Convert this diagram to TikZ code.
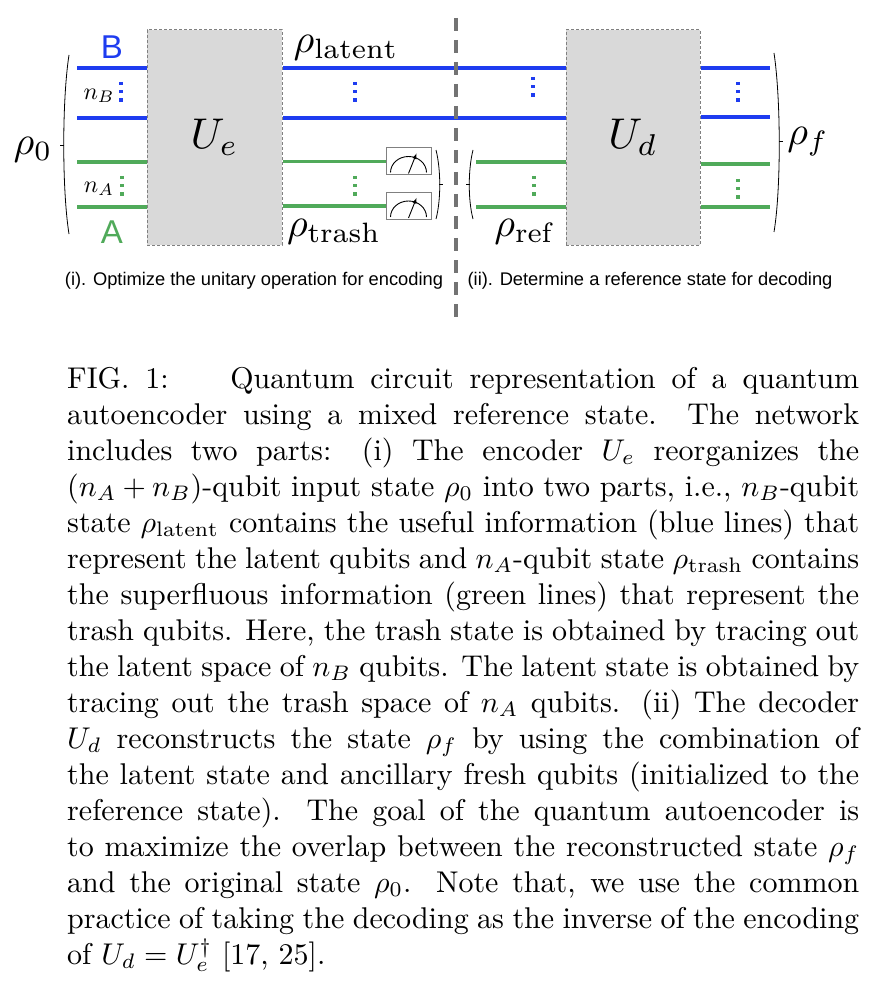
\documentclass[tikz,border=0pt]{standalone}
\usepackage{amsmath}
\usepackage{fontspec}
\newfontfamily\hel{Liberation Sans}
\usetikzlibrary{positioning}
\definecolor{qb}{RGB}{30, 60, 240}
\definecolor{qg}{RGB}{80, 170, 90}
\definecolor{gbox}{RGB}{217, 217, 217}
\tikzset{
  blue wire/.style={draw=qb, line width=3.6pt},
  green wire/.style={draw=qg, line width=3.6pt},
  gate/.style={draw=gray, densely dashed, fill=gbox, line width=1pt},
  meter/.style={draw=gray, fill=white, line width=1pt, minimum width=45pt, minimum height=27pt, inner sep=0pt},
  vdots/.style={line width=3.2pt, dash pattern=on 3.2pt off 5pt},
  lbl/.style={inner sep=0pt},
}
\newcommand{\scl}[2]{\scalebox{#1}{#2}}
\newcommand{\meterdial}[1]{%
  \draw [line width=0.9pt] ([xshift=-18pt,yshift=-11pt]#1.center) arc (180:0:18pt and 16pt);
  \draw [line width=0.9pt, -latex] ([xshift=0pt,yshift=-12pt]#1.center) -- ([xshift=8pt,yshift=8pt]#1.center);}
\begin{document}
\begin{tikzpicture}[x=1pt, y=-1pt]
\useasboundingbox (0,0) rectangle (874,984);
% gates
\node (Ue) [gate, minimum width=135pt, minimum height=215pt] at (214.5,137.5) {\scl{4.3}{$U_e$}};
\node (Ud) [gate, minimum width=134pt, minimum height=215pt] at (633,137.5) {\scl{4.3}{$U_d$}};
% wire ends
\coordinate (b1in) at (77,68);   \coordinate (b2in) at (77,118);
\coordinate (g1in) at (77,162);  \coordinate (g2in) at (77,207);
\node (m1) [meter] at (408.5,161.5) {};
\node (m2) [meter] at (408.5,206) {};
\coordinate (r1) at (476,162);   \coordinate (r2) at (476,207);
\coordinate (b1out) at (770,68); \coordinate (b2out) at (770,117);
\coordinate (g1out) at (770,164);\coordinate (g2out) at (770,207);
% wires
\draw [blue wire] (b1in) -- (Ue.west |- b1in);
\draw [blue wire] (b2in) -- (Ue.west |- b2in);
\draw [green wire] (g1in) -- (Ue.west |- g1in);
\draw [green wire] (g2in) -- (Ue.west |- g2in);
\draw [blue wire] (Ue.east |- b1in) -- (Ud.west |- b1in);
\draw [blue wire] (Ue.east |- b2in) -- (Ud.west |- b2in);
\draw [green wire] (Ue.east |- m1) -- (m1.west);
\draw [green wire] (Ue.east |- m2) -- (m2.west);
\draw [green wire] (r1) -- (Ud.west |- r1);
\draw [green wire] (r2) -- (Ud.west |- r2);
\draw [blue wire] (Ud.east |- b1out) -- (b1out);
\draw [blue wire] (Ud.east |- b2out) -- (b2out);
\draw [green wire] (Ud.east |- g1out) -- (g1out);
\draw [green wire] (Ud.east |- g2out) -- (g2out);
\meterdial{m1}
\meterdial{m2}
% vertical dots
\draw [vdots, qb] (121,82) -- (121,106);
\draw [vdots, qg] (122,176) -- (122,200);
\draw [vdots, qb] (355,82) -- (355,106);
\draw [vdots, qg] (355,176) -- (355,200);
\draw [vdots, qb] (533,77) -- (533,101);
\draw [vdots, qg] (534,176) -- (534,200);
\draw [vdots, qb] (738,82) -- (738,106);
\draw [vdots, qg] (738,179) -- (738,203);
% brackets
\draw [line width=0.8pt] (69,55) .. controls (62,100) and (62,190) .. (69,234);
\draw [line width=0.8pt] (64,145) -- (60,145);
\draw [line width=0.8pt] (436,150) .. controls (441,170) and (441,200) .. (436,219);
\draw [line width=0.8pt] (439,184) -- (443,184);
\draw [line width=0.8pt] (473,150) .. controls (468,170) and (468,200) .. (473,219);
\draw [line width=0.8pt] (470,184) -- (466,184);
\draw [line width=0.8pt] (774,53) .. controls (781,100) and (781,190) .. (774,232);
\draw [line width=0.8pt] (779,141) -- (783,141);
% divider
\draw [black!55, line width=3.2pt, dash pattern=on 13pt off 9pt] (456,18) -- (456,322);
% labels
\node (B) [lbl, text=qb, font=\hel\fontsize{33}{33}\selectfont] at (112,47) {B};
\node (A) [lbl, text=qg, font=\hel\fontsize{33}{33}\selectfont] at (112,232) {A};
\node (nB) [lbl] at (99,96) {\scl{2.4}{$n_B$}};
\node (nA) [lbl] at (99,189) {\scl{2.4}{$n_A$}};
\node (rho0) [lbl] at (33,150) {\scl{4}{$\rho_0$}};
\node (rhof) [lbl] at (808,142) {\scl{4}{$\rho_f$}};
\node (rholat) [lbl] at (346,48) {\scl{4}{$\rho_{\mathrm{latent}}$}};
\node (rhotr) [lbl] at (334,232) {\scl{4}{$\rho_{\mathrm{trash}}$}};
\node (rhoref) [lbl] at (524,232) {\scl{4}{$\rho_{\mathrm{ref}}$}};
\node (capi) [inner sep=0pt, font=\hel\fontsize{18.3}{18.3}\selectfont] at (254,281) {(i). Optimize the unitary operation for encoding};
\node (capii) [inner sep=0pt, font=\hel\fontsize{18.3}{18.3}\selectfont] at (650,281) {(ii). Determine a reference state for decoding};
% figure caption
\node (fig) [anchor=north west, inner sep=0pt] at (67,367) {\scl{3}{\parbox{264pt}{\fontsize{10}{12}\selectfont
FIG. 1:\quad\ \ Quantum circuit representation of a quantum\linebreak
autoencoder using a mixed reference state. The network\linebreak
includes two parts: (i) The encoder $U_e$ reorganizes the\linebreak
$(n_A+n_B)$-qubit input state $\rho_0$ into two parts, i.e., $n_B$-qubit\linebreak
state $\rho_{\mathrm{latent}}$ contains the useful information (blue lines) that\linebreak
represent the latent qubits and $n_A$-qubit state $\rho_{\mathrm{trash}}$ contains\linebreak
the superfluous information (green lines) that represent the\linebreak
trash qubits. Here, the trash state is obtained by tracing out\linebreak
the latent space of $n_B$ qubits. The latent state is obtained by\linebreak
tracing out the trash space of $n_A$ qubits. (ii) The decoder\linebreak
$U_d$ reconstructs the state $\rho_f$ by using the combination of\linebreak
the latent state and ancillary fresh qubits (initialized to the\linebreak
reference state). The goal of the quantum autoencoder is\linebreak
to maximize the overlap between the reconstructed state $\rho_f$\linebreak
and the original state $\rho_0$. Note that, we use the common\linebreak
practice of taking the decoding as the inverse of the encoding\linebreak
of $U_d = U_e^\dagger$ [17, 25].}}};
\end{tikzpicture}
\end{document}
